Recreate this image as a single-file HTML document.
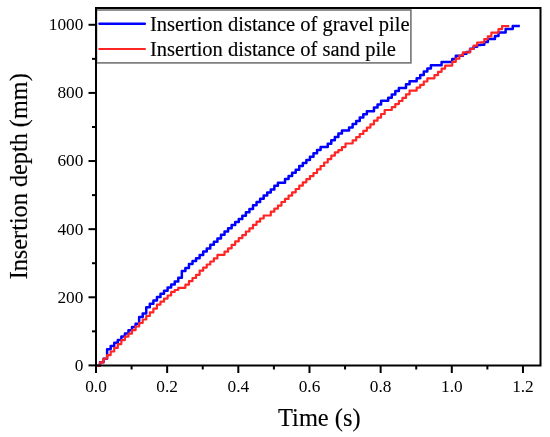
<!DOCTYPE html>
<html><head><meta charset="utf-8"><style>
html,body{margin:0;padding:0;background:#fff;}
svg{display:block;}
text{font-family:"Liberation Serif","Times New Roman",serif;fill:#000;}
</style></head><body>
<svg width="550" height="437" viewBox="0 0 550 437">
<rect x="0" y="0" width="550" height="437" fill="#fff"/>
<path d="M96.45,365.70H100.01V362.30H103.57V358.80H107.12V349.30H110.68V346.10H114.24V342.70H117.80V339.90H121.36V336.50H124.91V333.40H128.47V330.30H132.03V326.90H135.59V323.70H139.15V317.10H142.70V313.50H146.26V307.30H149.82V303.70H153.38V300.60H156.94V297.00H160.49V293.80H164.05V290.70H167.61V287.60H171.17V284.50H174.73V281.40H178.28V277.80H181.84V271.10H185.40V268.00H188.96V264.10H192.52V261.00H196.07V258.20H199.63V254.90H203.19V251.50H206.75V248.40H210.31V244.80H213.86V241.70H217.42V238.60H220.98V234.70H224.54V231.60H228.10V228.20H231.65V225.10H235.21V222.00H238.77V218.90H242.33V215.80H245.89V212.20H249.44V209.10H253.00V205.20H256.56V202.10H260.12V198.70H263.68V195.60H267.23V192.50H270.79V189.40H274.35V185.80H277.91V182.70H281.47V182.70H285.02V179.00H288.58V175.90H292.14V172.80H295.70V169.70H299.26V166.10H302.81V163.00H306.37V159.90H309.93V156.80H313.49V153.20H317.05V150.00H320.60V146.90H324.16V146.90H327.72V143.80H331.28V140.20H334.84V137.10H338.39V133.50H341.95V130.40H345.51V130.40H349.07V127.40H352.63V124.10H356.18V121.00H359.74V117.40H363.30V114.30H366.86V111.20H370.42V111.20H373.97V107.60H377.53V104.50H381.09V100.80H384.65V100.80H388.21V97.70H391.76V94.60H395.32V91.00H398.88V88.00H402.44V88.00H406.00V84.30H409.55V81.30H413.11V81.30H416.67V78.30H420.23V75.00H423.79V71.50H427.34V68.50H430.90V65.20H434.46V65.20H438.02V65.20H441.58V62.10H445.13V62.10H448.69V62.10H452.25V58.90H455.81V55.80H459.37V55.80H462.92V53.80H466.48V52.10H470.04V48.80H473.60V46.80H477.16V45.10H480.71V44.80H484.27V42.00H487.83V38.90H491.39V38.90H494.95V35.90H498.50V32.40H502.06V32.40H505.62V29.00H509.18V29.00H512.74V25.90H516.29V25.90H519.85" fill="none" stroke="#0000ff" stroke-width="2.5" stroke-linejoin="round"/>
<path d="M96.45,365.90H100.01V362.30H103.57V358.70H107.12V355.10H110.68V351.50H114.24V347.90H117.80V344.10H121.36V340.10H124.91V336.70H128.47V333.60H132.03V330.20H135.59V326.50H139.15V323.00H142.70V319.50H146.26V316.00H149.82V312.30H153.38V308.60H156.94V304.60H160.49V301.70H164.05V298.60H167.61V295.50H171.17V291.90H174.73V290.00H178.28V287.80H181.84V287.80H185.40V284.70H188.96V281.10H192.52V278.00H196.07V274.80H199.63V270.70H203.19V267.60H206.75V264.50H210.31V261.50H213.86V258.40H217.42V254.80H220.98V254.80H224.54V251.70H228.10V248.30H231.65V244.80H235.21V241.30H238.77V238.20H242.33V235.10H245.89V231.50H249.44V228.40H253.00V224.80H256.56V221.70H260.12V218.50H263.68V215.50H267.23V215.50H270.79V211.70H274.35V208.70H277.91V205.60H281.47V202.00H285.02V198.90H288.58V195.60H292.14V192.30H295.70V189.00H299.26V185.70H302.81V182.30H306.37V179.20H309.93V176.10H313.49V173.00H317.05V169.40H320.60V166.00H324.16V162.50H327.72V159.10H331.28V155.70H334.84V152.30H338.39V150.20H341.95V147.10H345.51V143.50H349.07V143.50H352.63V140.40H356.18V137.20H359.74V134.00H363.30V130.80H366.86V127.60H370.42V124.30H373.97V120.70H377.53V117.60H381.09V114.00H384.65V110.00H388.21V110.00H391.76V107.20H395.32V104.10H398.88V101.00H402.44V97.90H406.00V94.30H409.55V90.70H413.11V90.70H416.67V87.60H420.23V84.90H423.79V81.50H427.34V78.30H430.90V78.30H434.46V75.20H438.02V71.80H441.58V68.70H445.13V65.60H448.69V65.60H452.25V61.80H455.81V58.70H459.37V55.50H462.92V52.30H466.48V52.30H470.04V49.00H473.60V45.70H477.16V42.50H480.71V42.30H484.27V39.10H487.83V36.40H491.39V32.60H494.95V32.60H498.50V29.20H502.06V26.10H505.62V26.10H509.18" fill="none" stroke="#ff2525" stroke-width="2.2" stroke-linejoin="round"/>
<rect x="96.5" y="10" width="314.4" height="52.9" fill="#fff" stroke="#747474" stroke-width="1.6"/>
<line x1="99.5" y1="23.8" x2="144.8" y2="23.8" stroke="#0000ff" stroke-width="2.5" stroke-linecap="round"/>
<line x1="99.2" y1="49" x2="145" y2="49" stroke="#ff2525" stroke-width="2" stroke-linecap="round"/>
<g font-size="20.5" stroke="#000" stroke-width="0.15"><text x="150" y="31.2">Insertion distance of gravel pile</text><text x="150" y="55.8">Insertion distance of sand pile</text></g>
<rect x="96" y="8" width="444.5" height="357.5" fill="none" stroke="#000" stroke-width="2"/>
<g stroke="#000" stroke-width="2"><line x1="96.00" y1="365.5" x2="96.00" y2="373.0"/><line x1="131.58" y1="365.5" x2="131.58" y2="369.5"/><line x1="167.16" y1="365.5" x2="167.16" y2="373.0"/><line x1="202.74" y1="365.5" x2="202.74" y2="369.5"/><line x1="238.32" y1="365.5" x2="238.32" y2="373.0"/><line x1="273.90" y1="365.5" x2="273.90" y2="369.5"/><line x1="309.48" y1="365.5" x2="309.48" y2="373.0"/><line x1="345.06" y1="365.5" x2="345.06" y2="369.5"/><line x1="380.64" y1="365.5" x2="380.64" y2="373.0"/><line x1="416.22" y1="365.5" x2="416.22" y2="369.5"/><line x1="451.80" y1="365.5" x2="451.80" y2="373.0"/><line x1="487.38" y1="365.5" x2="487.38" y2="369.5"/><line x1="522.96" y1="365.5" x2="522.96" y2="373.0"/><line x1="96" y1="365.40" x2="88.5" y2="365.40"/><line x1="96" y1="331.34" x2="92.0" y2="331.34"/><line x1="96" y1="297.28" x2="88.5" y2="297.28"/><line x1="96" y1="263.22" x2="92.0" y2="263.22"/><line x1="96" y1="229.16" x2="88.5" y2="229.16"/><line x1="96" y1="195.10" x2="92.0" y2="195.10"/><line x1="96" y1="161.04" x2="88.5" y2="161.04"/><line x1="96" y1="126.98" x2="92.0" y2="126.98"/><line x1="96" y1="92.92" x2="88.5" y2="92.92"/><line x1="96" y1="58.86" x2="92.0" y2="58.86"/><line x1="96" y1="24.80" x2="88.5" y2="24.80"/></g>
<g font-size="17.3"><text x="96.00" y="391.5" text-anchor="middle">0.0</text><text x="167.16" y="391.5" text-anchor="middle">0.2</text><text x="238.32" y="391.5" text-anchor="middle">0.4</text><text x="309.48" y="391.5" text-anchor="middle">0.6</text><text x="380.64" y="391.5" text-anchor="middle">0.8</text><text x="451.80" y="391.5" text-anchor="middle">1.0</text><text x="522.96" y="391.5" text-anchor="middle">1.2</text><text x="83.3" y="370.80" text-anchor="end">0</text><text x="83.3" y="302.68" text-anchor="end">200</text><text x="83.3" y="234.56" text-anchor="end">400</text><text x="83.3" y="166.44" text-anchor="end">600</text><text x="83.3" y="98.32" text-anchor="end">800</text><text x="83.3" y="30.20" text-anchor="end">1000</text></g>
<text x="319.3" y="426.4" font-size="24.4" stroke="#000" stroke-width="0.15" text-anchor="middle">Time (s)</text>
<text transform="translate(27.3,176.3) rotate(-90)" font-size="24.25" text-anchor="middle" stroke="#000" stroke-width="0.15">Insertion depth (mm)</text>
</svg>
</body></html>
